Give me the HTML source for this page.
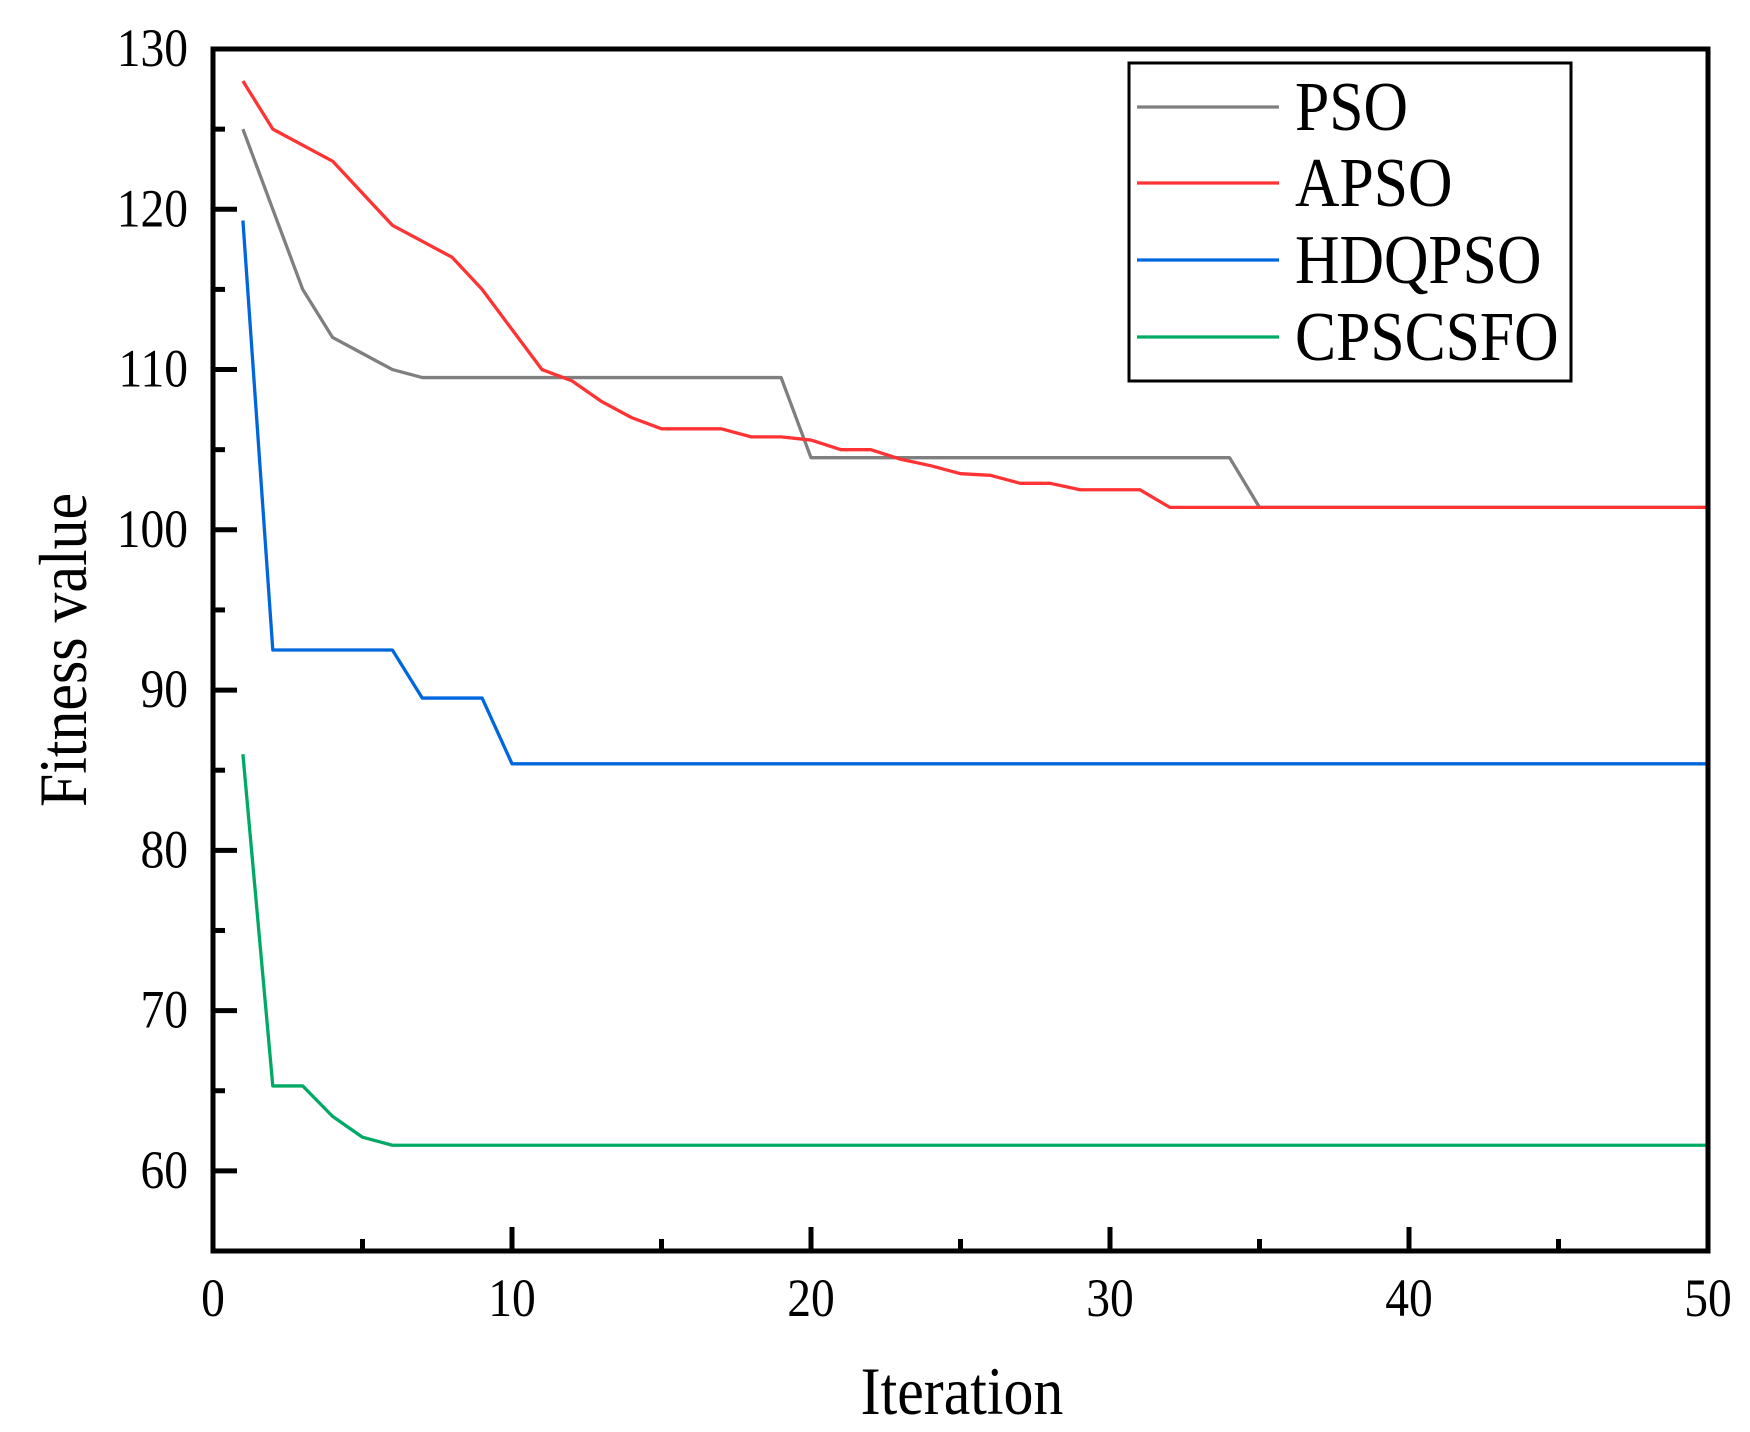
<!DOCTYPE html>
<html><head><meta charset="utf-8"><style>
html,body{margin:0;padding:0;background:#fff;}
svg{display:block;font-family:"Liberation Serif",serif;}
</style></head><body>
<svg id="chart" width="1750" height="1432" viewBox="0 0 1750 1432">
<g id="series"></g>
<g id="axes"></g>
<g id="legend"></g>
</svg>
<script>
const iterations = Array.from({length:50},(_,i)=>i+1);
const psoValues = [125,120,115,112,111,110,109.5,109.5,109.5,109.5,109.5,109.5,109.5,109.5,109.5,109.5,109.5,109.5,109.5,104.5,104.5,104.5,104.5,104.5,104.5,104.5,104.5,104.5,104.5,104.5,104.5,104.5,104.5,104.5,101.4,101.4,101.4,101.4,101.4,101.4,101.4,101.4,101.4,101.4,101.4,101.4,101.4,101.4,101.4,101.4];
const apsoValues = [128,125,124,123,121,119,118,117,115,112.5,110,109.3,108,107,106.3,106.3,106.3,105.8,105.8,105.6,105,105,104.4,104,103.5,103.4,102.9,102.9,102.5,102.5,102.5,101.4,101.4,101.4,101.4,101.4,101.4,101.4,101.4,101.4,101.4,101.4,101.4,101.4,101.4,101.4,101.4,101.4,101.4,101.4];
const hdqpsoValues = [119.3,92.5,92.5,92.5,92.5,92.5,89.5,89.5,89.5,85.4,85.4,85.4,85.4,85.4,85.4,85.4,85.4,85.4,85.4,85.4,85.4,85.4,85.4,85.4,85.4,85.4,85.4,85.4,85.4,85.4,85.4,85.4,85.4,85.4,85.4,85.4,85.4,85.4,85.4,85.4,85.4,85.4,85.4,85.4,85.4,85.4,85.4,85.4,85.4,85.4];
const cpscsfoValues = [86,65.3,65.3,63.4,62.1,61.6,61.6,61.6,61.6,61.6,61.6,61.6,61.6,61.6,61.6,61.6,61.6,61.6,61.6,61.6,61.6,61.6,61.6,61.6,61.6,61.6,61.6,61.6,61.6,61.6,61.6,61.6,61.6,61.6,61.6,61.6,61.6,61.6,61.6,61.6,61.6,61.6,61.6,61.6,61.6,61.6,61.6,61.6,61.6,61.6];
const seriesNames = ["PSO","APSO","HDQPSO","CPSCSFO"];
const xTickLabels = [0,10,20,30,40,50];
const yTickLabels = [60,70,80,90,100,110,120,130];

const NS="http://www.w3.org/2000/svg";
const L=213,R=1708,T=49,B=1251, xMin=0,xMax=50,yMin=55,yMax=130;
const SX=0.88;
const xs=v=>L+(v-xMin)/(xMax-xMin)*(R-L);
const ys=v=>B-(v-yMin)/(yMax-yMin)*(B-T);
function mk(tag,attrs,parent){const e=document.createElementNS(NS,tag);for(const k in attrs)e.setAttribute(k,attrs[k]);parent.appendChild(e);return e;}
function txt(x,y,size,anchor,str,parent,rot){
  const tr='translate('+x+','+y+')'+(rot?' rotate(-90)':'')+' scale('+SX+',1)';
  const t=mk('text',{x:0,y:0,'font-size':size,'text-anchor':anchor,transform:tr},parent);
  t.textContent=str;return t;
}
const gS=document.getElementById('series'),gA=document.getElementById('axes'),gL=document.getElementById('legend');
const colors=["#7f7f7f","#ff3333","#0066dd","#00aa66"];
const data=[psoValues,apsoValues,hdqpsoValues,cpscsfoValues];
data.forEach((vals,si)=>{
  const p=mk('polyline',{points:vals.map((v,i)=>xs(iterations[i])+','+ys(v)).join(' '),fill:'none',stroke:colors[si],'stroke-width':3.3,'stroke-linejoin':'round'},gS);
  
  
});
const fr=mk('rect',{x:L,y:T,width:R-L,height:B-T,fill:'none',stroke:'#000','stroke-width':5},gA);


for(let v=0;v<=50;v+=5){
  const major=v%10===0;
  const t=mk('line',{x1:xs(v),x2:xs(v),y1:B,y2:B-(major?24:12),stroke:'#000','stroke-width':5},gA);
  
  
}
xTickLabels.forEach(v=>{
  const t=txt(xs(v),1316,54,'middle',v,gA);
  
  
});
for(let v=60;v<=125;v+=5){
  const major=v%10===0;
  const t=mk('line',{x1:L,x2:L+(major?24:12),y1:ys(v),y2:ys(v),stroke:'#000','stroke-width':5},gA);
  
  
}
yTickLabels.forEach(v=>{
  const t=txt(188,ys(v)+17,54,'end',v,gA);
  
  
});
const xt=txt(962,1414,68,'middle','Iteration',gA);


const yt=txt(86,650,68,'middle','Fitness value',gA,true);


const lb=mk('rect',{x:1129,y:63,width:442,height:318,fill:'#fff',stroke:'#000','stroke-width':3},gL);


const ly=[107,183,260,337];
seriesNames.forEach((n,i)=>{
  const g=mk('g',{},gL);
  
  
  mk('line',{x1:1137,x2:1279,y1:ly[i],y2:ly[i],stroke:colors[i],'stroke-width':3.3},g);
  txt(1295,ly[i]+23,70,'start',n,g);
});
</script>
</body></html>
